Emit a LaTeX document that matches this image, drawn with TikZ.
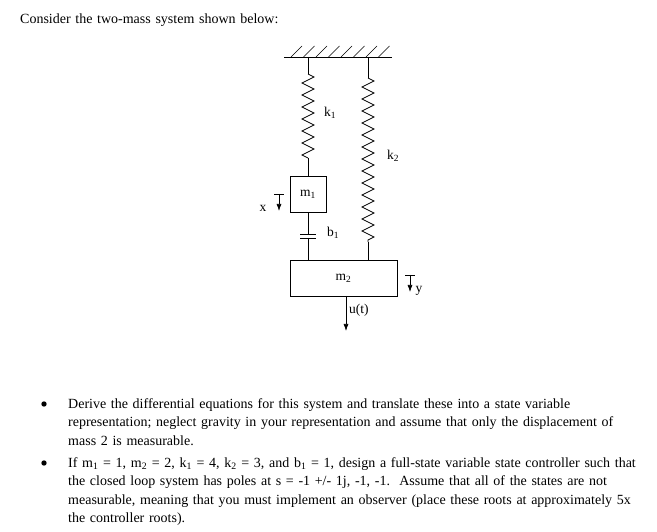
\documentclass[tikz,border=0pt]{standalone}
\usepackage{fontspec}
\setmainfont{Liberation Serif}
\usetikzlibrary{decorations.pathmorphing,arrows.meta}
\hyphenpenalty=10000 \exhyphenpenalty=10000
\begin{document}
\begin{tikzpicture}[x=1pt,y=-1pt,
  ln/.style={black,line width=0.7pt},
  spr/.style={ln,decorate,decoration={zigzag,amplitude=6pt,segment length=12pt}},
  box/.style={draw,line width=0.7pt,minimum width=36pt,minimum height=36pt,inner sep=0pt},
  txt/.style={font=\fontsize{13.5}{16}\selectfont,inner sep=0pt},
  par/.style={anchor=base west,text width=589pt,align=left,inner sep=0pt,font=\fontsize{14}{18.6}\selectfont},
  arr/.style={ln,-{Latex[length=7pt,width=5pt]}}]
\useasboundingbox (0,0) rectangle (657,532);
% ceiling
\coordinate (cl) at (284,57); \coordinate (cr) at (392,57);
\draw[ln] (cl) -- (cr);
\foreach \i in {0,...,7} \draw[ln] (291+\i*12.5,57) -- ++(11,-11);
% masses
\node[box] (m1) at (308,194) {\fontsize{13.5}{14}\selectfont m\textsubscript{1}};
\node[box,minimum width=107pt] (m2) at (343.5,278) {\fontsize{13.5}{14}\selectfont m\textsubscript{2}};
% left spring
\coordinate (s1a) at (308,57); \coordinate (s1b) at (308,74);
\coordinate (s1c) at (308,158);
\draw[ln] (s1a) -- (s1b);
\draw[spr] (s1b) -- (s1c);
\draw[ln] (s1c) -- (m1.north);
\node[txt] (k1) at (330,113) {k\textsubscript{1}};
% right spring
\coordinate (s2a) at (368,57); \coordinate (s2b) at (368,78);
\coordinate (s2c) at (368,242); \coordinate (s2d) at (368,260);
\draw[ln] (s2a) -- (s2b);
\draw[spr] (s2b) -- (s2c);
\draw[ln] (s2c) -- (s2d);
\node[txt] (k2) at (393,156) {k\textsubscript{2}};
% damper
\coordinate (d1) at (308,234); \coordinate (d2) at (308,238);
\draw[ln] (m1.south) -- (d1);
\draw[ln] (300,234) -- (316,234);
\draw[ln] (300,238) -- (316,238);
\draw[ln] (d2) -- (308,260);
\node[txt] (b1) at (333,233) {b\textsubscript{1}};
% x arrow
\draw[ln] (274,194) -- (284,194);
\coordinate (xa) at (279,194); \coordinate (xb) at (279,211);
\draw[arr] (xa) -- (xb);
\node[txt] (xl) at (263,208) {x};
% y arrow
\draw[ln] (405,275) -- (415,275);
\coordinate (ya) at (410,275); \coordinate (yb) at (410,292);
\draw[arr] (ya) -- (yb);
\node[txt] (yl) at (419,291) {y};
% u(t)
\coordinate (ub) at (346,331);
\draw[arr] (346,296) -- (ub);
\node[txt,anchor=west] (ul) at (349,310) {u(t)};
% text
\node[par,text width=400pt] (title) at (20,24) {Consider the two-mass system shown below:};
\node[par] (p1) at (68,408) {Derive the differential equations for this system and translate these into a state variable\\ representation; neglect gravity in your representation and assume that only the displacement of\\ mass 2 is measurable.};
\node[par] (p2) at (68,467) {If m\textsubscript{1} = 1, m\textsubscript{2} = 2, k\textsubscript{1} = 4, k\textsubscript{2} = 3, and b\textsubscript{1} = 1, design a full-state variable state controller such that\\ the closed loop system has poles at s = -1 +/- 1j, -1, -1.\ \ Assume that all of the states are not\\ measurable, meaning that you must implement an observer (place these roots at approximately 5x\\ the controller roots).};
\fill (44,404) circle (2.7);
\fill (44,463) circle (2.7);
\end{tikzpicture}
\end{document}
